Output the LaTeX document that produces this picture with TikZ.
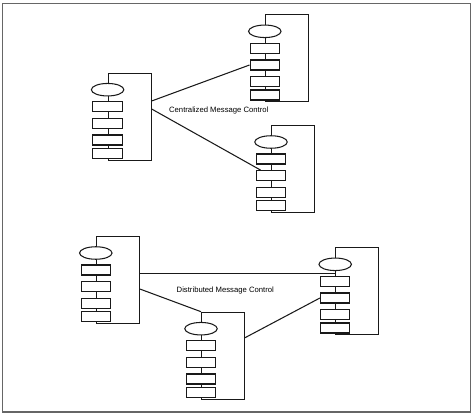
\documentclass[tikz,border=0pt]{standalone}
\usepackage{fontspec}
\setmainfont{Liberation Sans}
\usetikzlibrary{calc,shapes.geometric}
\newcommand\mycomp[3]{%
  \node[frm, anchor=north west] (#1f) at (#2,#3) {};
  \node[ell] (#1e) at (#2,#3+17) {};
  \node[box] (#1a) at (#2,#3+34) {};
  \node[box] (#1b) at (#2,#3+50.7) {};
  \node[box] (#1c) at (#2,#3+67.3) {};
  \node[box] (#1d) at (#2,#3+80.7) {};
}
\begin{document}
\begin{tikzpicture}[x=1pt,y=-1pt,
  every path/.style={line width=1.05pt, black!90},
  frm/.style={draw, line width=1.05pt, minimum width=43pt, minimum height=87pt, inner sep=0pt},
  ell/.style={draw, fill=white, ellipse, minimum width=32.5pt, minimum height=12.5pt, inner sep=0pt},
  box/.style={draw, fill=white, rectangle, minimum width=29.5pt, minimum height=10pt, inner sep=0pt},
  lbl/.style={font=\fontsize{7.7}{9}\selectfont, inner sep=0pt, text=black},
  conn/.style={line width=1.05pt}]
\useasboundingbox (0,0) rectangle (474,415);
\draw[line width=1.3pt, black!60] (2.5,3.5) rectangle (470.5,412);
\mycomp{c1}{107.6}{72.7}
\mycomp{c2}{264.8}{14.3}
\mycomp{c3}{271}{125}
\mycomp{c4}{95.8}{236}
\mycomp{c5}{201}{311.7}
\mycomp{c6}{335.2}{247.3}
\node[lbl] (t1) at (218.8,110.7) {Centralized Message Control};
\node[lbl] (t2) at (225.3,290.7) {Distributed Message Control};
\draw[conn] ([yshift=-28.3pt]c1f.north east) -- (c2b.west);
\draw[conn] ([yshift=-36.3pt]c1f.north east) -- ([xshift=5pt]c3b.north west);
\coordinate (c6s) at ($(c6e.south)!0.5!(c6a.north)$);
\draw[conn] (c4f.east |- c6s) -- (c6s);
\draw[conn] ([yshift=-53pt]c4f.north east) -- (c5f.north west);
\draw[conn] ([yshift=-26pt]c5f.north east) -- (c6b.west);
\end{tikzpicture}
\end{document}
